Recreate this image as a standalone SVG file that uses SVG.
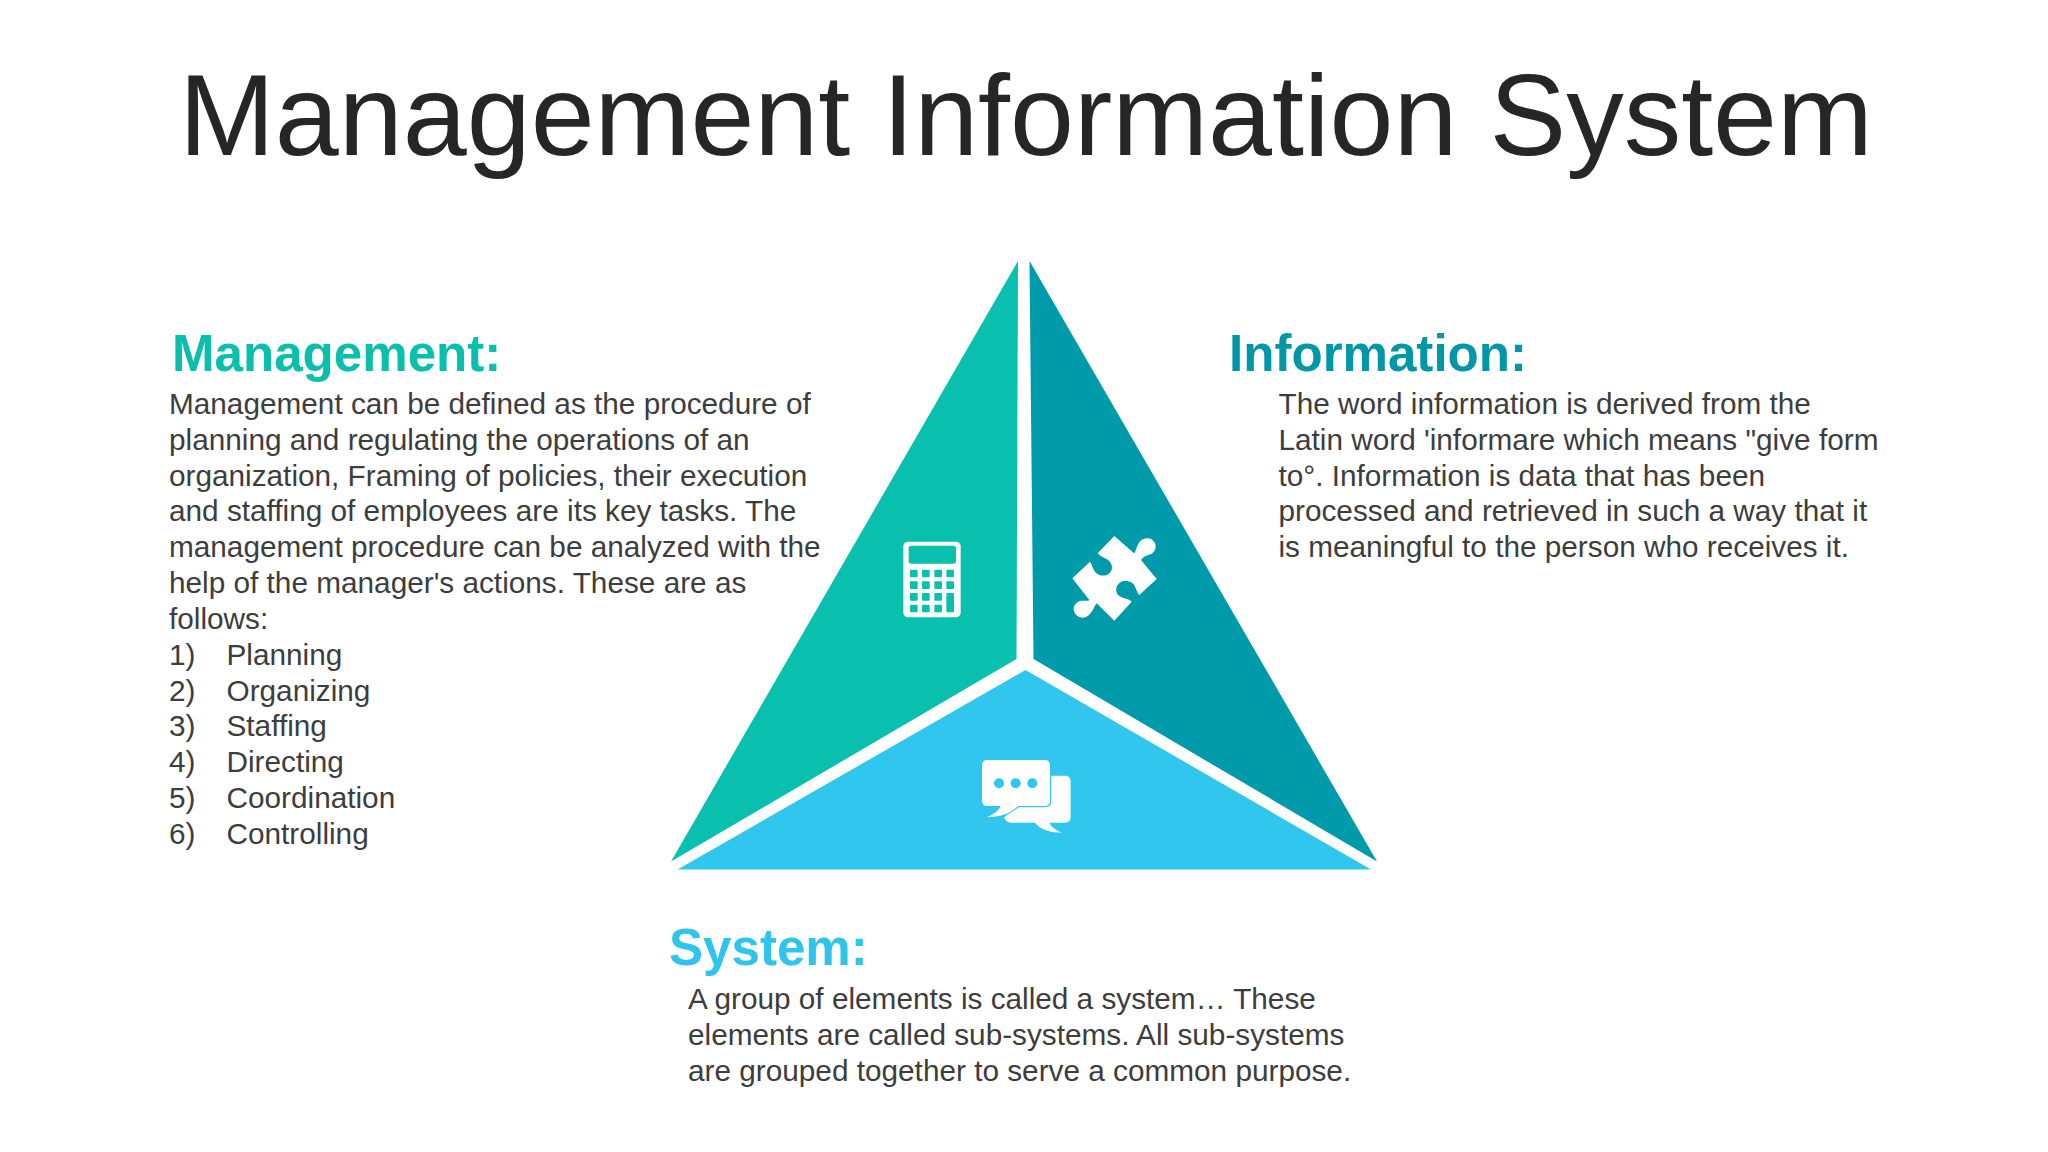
<svg xmlns="http://www.w3.org/2000/svg" width="2048" height="1152" viewBox="0 0 2048 1152">
<style>
text{font-family:"Liberation Sans",Arial,sans-serif}
.title{font-size:115px;fill:#262626}
.head{font-size:51.100px;font-weight:bold}
.body{font-size:29.750px;fill:#3d3d3d}
.w{fill:#fff}
</style>
<rect width="2048" height="1152" fill="#fff"/>
<text class="title" x="179" y="155">Management Information System</text>
<g id="management">
<polygon points="1018,261 1016.500,659 671,861.500" fill="#09BFAD"/>
<g transform="translate(880 520) scale(.33333)">
<rect x="70" y="65" width="172" height="227" rx="14" class="w"/>
<g fill="#09BFAD">
<rect x="86" y="77" width="142" height="54" rx="8"/>
<rect x="90" y="149" width="23" height="23" rx="3"/><rect x="126" y="149" width="23" height="23" rx="3"/><rect x="163" y="149" width="23" height="23" rx="3"/><rect x="199" y="149" width="23" height="23" rx="3"/>
<rect x="90" y="184" width="23" height="23" rx="3"/><rect x="126" y="184" width="23" height="23" rx="3"/><rect x="163" y="184" width="23" height="23" rx="3"/><rect x="199" y="184" width="23" height="23" rx="3"/>
<rect x="90" y="219" width="23" height="23" rx="3"/><rect x="126" y="219" width="23" height="23" rx="3"/><rect x="163" y="219" width="23" height="23" rx="3"/><rect x="199" y="219" width="23" height="58" rx="3"/>
<rect x="90" y="254" width="23" height="23" rx="3"/><rect x="126" y="254" width="23" height="23" rx="3"/><rect x="163" y="254" width="23" height="23" rx="3"/>
</g>
</g>
<text class="head" x="172" y="371" fill="#0ABFAB">Management:</text>
<text class="body" x="169" y="413.500">Management can be defined as the procedure of</text>
<text class="body" x="169" y="449.500">planning and regulating the operations of an</text>
<text class="body" x="169" y="485.500">organization, Framing of policies, their execution</text>
<text class="body" x="169" y="521">and staffing of employees are its key tasks. The</text>
<text class="body" x="169" y="557">management procedure can be analyzed with the</text>
<text class="body" x="169" y="592.500">help of the manager's actions. These are as</text>
<text class="body" x="169" y="628.500">follows:</text>
<text class="body" x="169" y="664.500">1)</text><text class="body" x="226.500" y="664.500">Planning</text>
<text class="body" x="169" y="700.500">2)</text><text class="body" x="226.500" y="700.500">Organizing</text>
<text class="body" x="169" y="736">3)</text><text class="body" x="226.500" y="736">Staffing</text>
<text class="body" x="169" y="772">4)</text><text class="body" x="226.500" y="772">Directing</text>
<text class="body" x="169" y="807.500">5)</text><text class="body" x="226.500" y="807.500">Coordination</text>
<text class="body" x="169" y="843.500">6)</text><text class="body" x="226.500" y="843.500">Controlling</text>
</g>
<g id="information">
<polygon points="1029.500,261 1033.500,659 1377,861.500" fill="#009BAA"/>
<path transform="translate(880 520) scale(.33333)" class="w" d="M703 48L762 100C770 92 770 72 782 62C795 50 818 52 825 70C832 88 820 102 803 106C795 108 789 112 783 120L830 177L778 225C770 218 768 200 758 190C745 178 725 180 715 192C703 206 708 225 725 232C735 236 748 238 755 245L703 302L650 250C643 258 640 272 630 282C618 296 595 298 585 280C576 264 584 248 600 243C610 240 622 245 628 240L577 175L630 125C636 132 638 148 648 158C660 170 682 170 692 155C702 140 692 122 678 116C668 112 660 108 653 100Z"/>
<text class="head" x="1229" y="371" fill="#0097A7">Information:</text>
<text class="body" x="1278.500" y="413.500">The word information is derived from the</text>
<text class="body" x="1278.500" y="449.500">Latin word 'informare which means "give form</text>
<text class="body" x="1278.500" y="485.500">to°. Information is data that has been</text>
<text class="body" x="1278.500" y="521">processed and retrieved in such a way that it</text>
<text class="body" x="1278.500" y="557">is meaningful to the person who receives it.</text>
</g>
<g id="system">
<polygon points="1025.500,670 677.500,869.500 1371,869.500" fill="#30C6EE"/>
<g transform="translate(960 740) scale(.33333)">
<path class="w" d="M200 107H315Q332 107 332 124V232Q332 248 315 248H268C275 262 290 272 307 278C270 278 240 268 225 248H150Q135 245 133 232L170 200Z"/>
<path class="w" stroke="#30C6EE" stroke-width="7" paint-order="stroke" d="M82 60H254Q270 60 270 76V182Q270 198 254 198H175C150 220 120 232 80 232C100 224 116 212 122 198H82Q66 198 66 182V76Q66 60 82 60Z"/>
<g fill="#30C6EE"><circle cx="117" cy="130" r="15"/><circle cx="167" cy="130" r="15"/><circle cx="217" cy="130" r="15"/></g>
</g>
<text class="head" x="669" y="965" fill="#2FC4EC">System:</text>
<text class="body" x="688" y="1008.500">A group of elements is called a system… These</text>
<text class="body" x="688" y="1044.500">elements are called sub-systems. All sub-systems</text>
<text class="body" x="688" y="1080.500">are grouped together to serve a common purpose.</text>
</g>
</svg>
